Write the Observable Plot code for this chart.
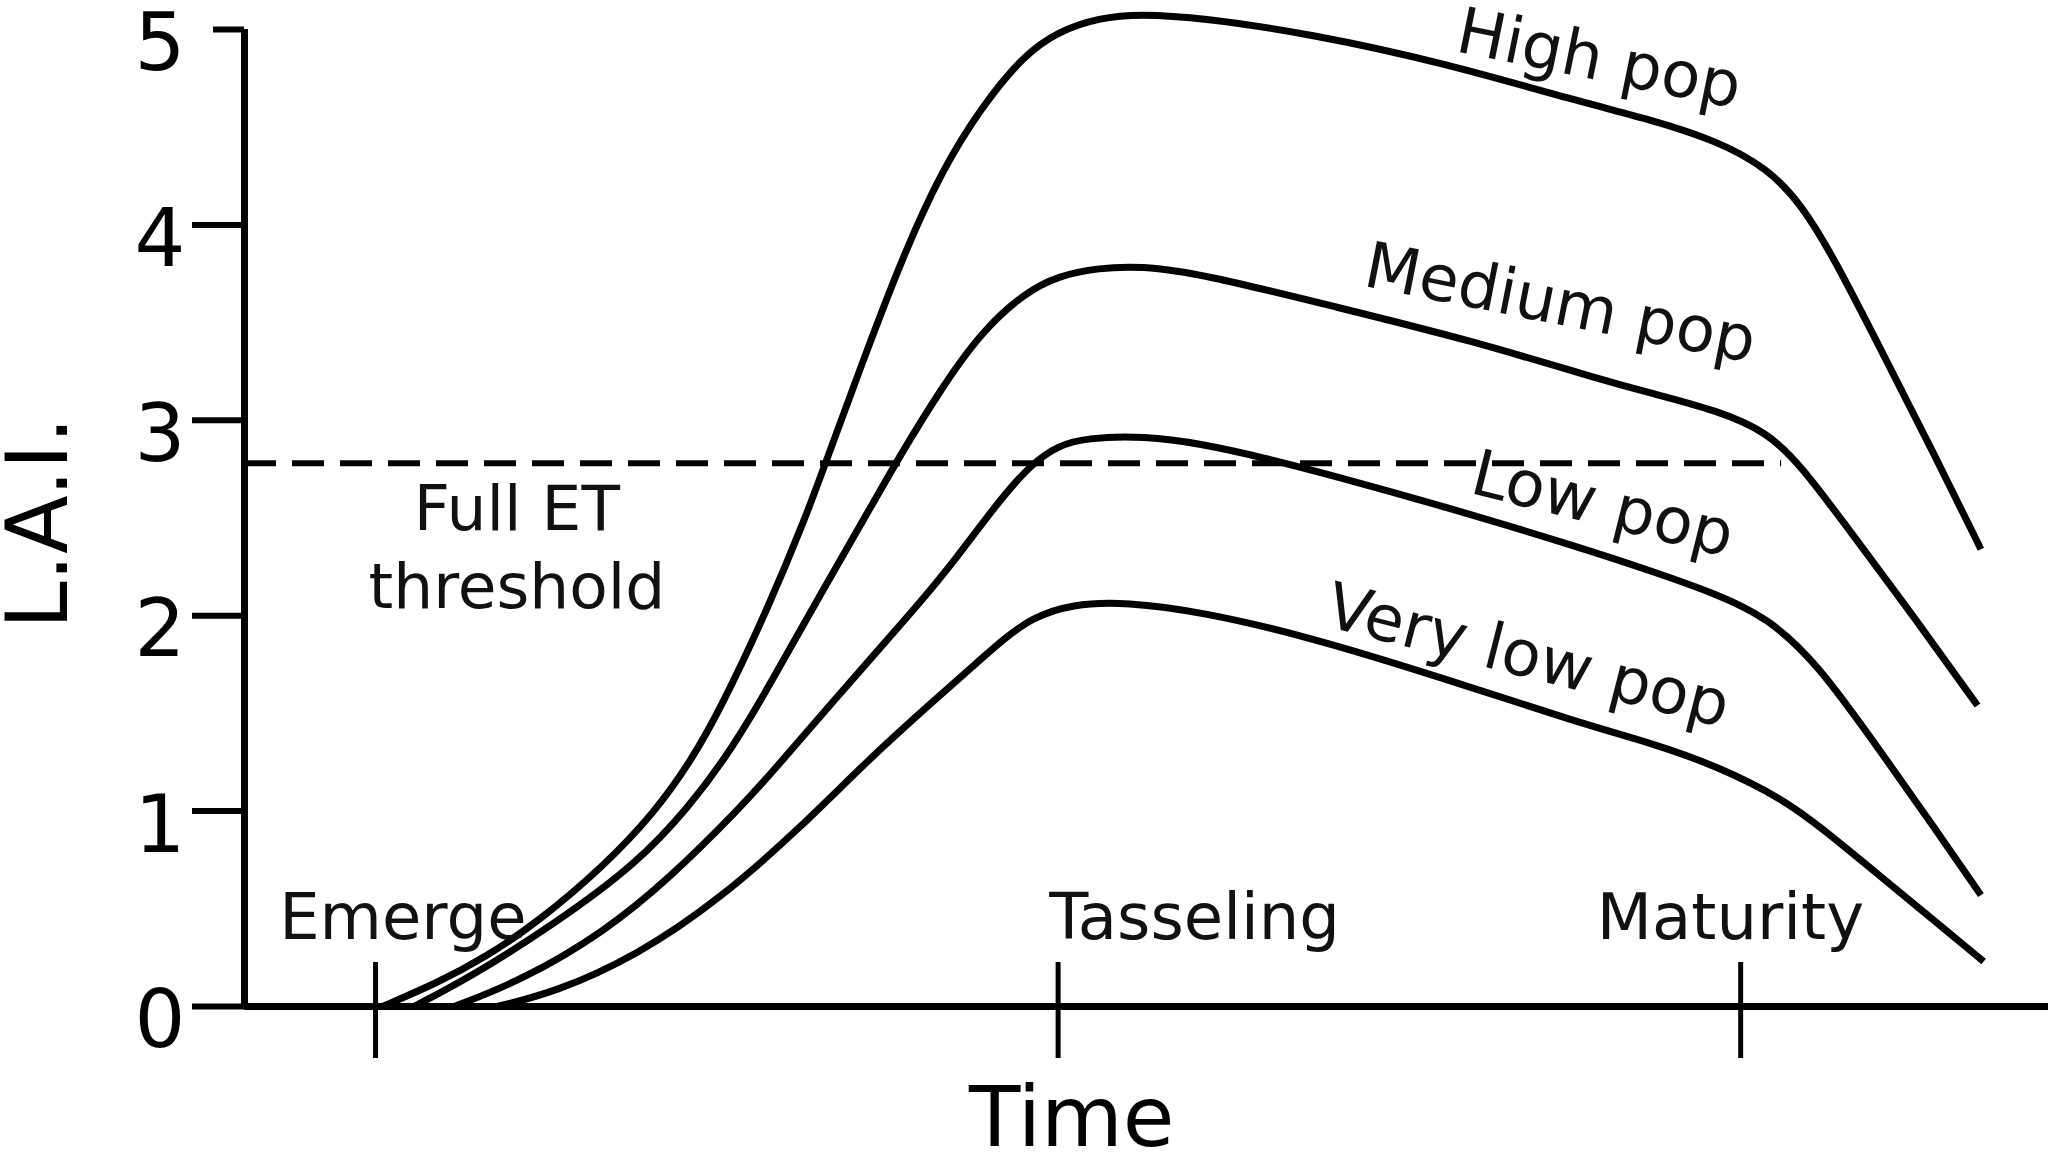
<!DOCTYPE html>
<html>
<head>
<meta charset="utf-8">
<script src="https://cdn.jsdelivr.net/npm/d3@7"></script>
<script src="https://cdn.jsdelivr.net/npm/@observablehq/plot@0.6"></script>
<style>
  html, body { margin: 0; padding: 0; background: #fff; }
  #chart { width: 2048px; height: 1152px; overflow: hidden; }
</style>
</head>
<body>
<div id="chart"></div>
<script>
// ---- data (time: 0 = Emerge, 1 = Tasseling, 2 = Maturity; value = L.A.I.) ----
const stages = ["Emerge", "Tasseling", "Maturity"];
const stageTime = [0, 1, 2];
const yTicks = [0, 1, 2, 3, 4, 5];
const seriesNames = ["High pop", "Medium pop", "Low pop", "Very low pop"];

const highPop = [[0.01,0],[0.09,0.12],[0.16,0.25],[0.237,0.43],[0.335,0.72],[0.408,0.99],[0.461,1.25],[0.505,1.52],[0.574,2.03],[0.632,2.52],[0.658,2.77],[0.72,3.36],[0.775,3.86],[0.83,4.28],[0.887,4.6],[0.95,4.87],[1.0,4.99],[1.06,5.06],[1.12,5.08],[1.21,5.06],[1.367,4.98],[1.565,4.83],[1.764,4.63],[1.868,4.54],[1.966,4.43],[2.039,4.29],[2.088,4.11],[2.137,3.83],[2.21,3.33],[2.283,2.83],[2.352,2.34]];
const mediumPop = [[0.056,0],[0.139,0.15],[0.261,0.42],[0.383,0.73],[0.461,1.03],[0.51,1.26],[0.559,1.53],[0.642,2.05],[0.733,2.6],[0.765,2.8],[0.83,3.17],[0.887,3.45],[0.95,3.65],[1.0,3.74],[1.06,3.78],[1.12,3.79],[1.21,3.75],[1.407,3.58],[1.604,3.41],[1.803,3.2],[1.868,3.14],[1.966,3.05],[2.039,2.94],[2.088,2.77],[2.161,2.43],[2.259,1.97],[2.347,1.54]];
const lowPop = [[0.115,0],[0.212,0.13],[0.335,0.38],[0.432,0.66],[0.535,1.02],[0.579,1.19],[0.667,1.55],[0.799,2.07],[0.85,2.29],[0.916,2.6],[0.962,2.78],[1.0,2.87],[1.04,2.91],[1.127,2.92],[1.21,2.88],[1.3,2.81],[1.4,2.72],[1.565,2.56],[1.764,2.35],[1.868,2.23],[1.966,2.11],[2.039,1.99],[2.112,1.76],[2.21,1.28],[2.283,0.92],[2.352,0.57]];
const veryLowPop = [[0.178,0],[0.261,0.07],[0.383,0.26],[0.505,0.55],[0.627,0.93],[0.715,1.24],[0.813,1.55],[0.878,1.75],[0.92,1.88],[0.962,1.99],[1.02,2.06],[1.1,2.07],[1.21,2.02],[1.37,1.89],[1.565,1.68],[1.764,1.45],[1.868,1.35],[1.966,1.23],[2.063,1.06],[2.12,0.91],[2.2,0.68],[2.28,0.45],[2.356,0.23]];

const etThreshold = 2.78;       // "Full ET threshold" L.A.I.
const etThresholdEnd = 2.06;    // time where the dashed line stops
const etLabel = "Full ET\nthreshold";

// annotation anchors (data units) for curve labels
const labelTime = [1.58, 1.445, 1.601, 1.388];
const labelValue = [4.89, 3.69, 2.63, 1.95];
const labelAngle = [11.5, 11.2, 14, 14.3];
const stageLabelTime = [0.04, 1.2, 1.985];
const etLabelPos = [0.207, 2.04];
const timeLabelPos = 1.02;

// ---- build table ----
const seriesValues = [highPop, mediumPop, lowPop, veryLowPop];
const rows = seriesNames.flatMap((name, i) => seriesValues[i].map(([t, v]) => ({series: name, t, v})));

const xDomain = [-0.192, 2.451];
const font = "DejaVu Sans";

const chart = Plot.plot({
  width: 2048,
  height: 1152,
  marginLeft: 244,
  marginRight: 0,
  marginTop: 29,
  marginBottom: 146,
  style: {fontFamily: font, background: "#fff", color: "#000", overflow: "visible"},
  x: {domain: xDomain, axis: null, label: null},
  y: {domain: [0, 5], axis: null, label: null},
  marks: [
    // dashed full-ET threshold
    Plot.ruleY([etThreshold], {x1: xDomain[0], x2: etThresholdEnd, stroke: "#000", strokeWidth: 6, strokeDasharray: "32,16"}),
    // curves
    Plot.line(rows, {x: "t", y: "v", z: "series", curve: "basis", stroke: "#000", strokeWidth: 7, strokeLinecap: "butt"}),
    // axis lines
    Plot.ruleY([0], {stroke: "#000", strokeWidth: 7}),
    Plot.ruleX([xDomain[0]], {stroke: "#000", strokeWidth: 7}),
    // y ticks
    Plot.axisY(yTicks.filter(d => d < 5), {tickSize: 52, strokeWidth: 6, tickFormat: () => "", label: null}),
    Plot.axisY([5], {tickSize: 31, strokeWidth: 6, tickFormat: () => "", label: null}),
    Plot.axisY(yTicks, {tickSize: 0, tickPadding: 59, fontSize: 80, dy: 15, fill: "#000", tickFormat: d3.format("d"), label: null}),
    // x ticks crossing the axis
    Plot.axisX(stageTime, {tickSize: 96, dy: -44, strokeWidth: 5, tickFormat: () => "", label: null}),
    // stage labels above the axis
    Plot.text(stages, {x: stageLabelTime, frameAnchor: "bottom", dy: -68, lineAnchor: "bottom", fontSize: 64, fill: "#111"}),
    // curve labels
    Plot.text(seriesNames, {x: labelTime, y: labelValue, rotate: labelAngle, textAnchor: "start", lineAnchor: "bottom", fontSize: 64, fill: "#111"}),
    // threshold label
    Plot.text([etLabel], {x: [etLabelPos[0]], y: [etLabelPos[1]], lineAnchor: "bottom", lineHeight: 1.24, fontSize: 63, fill: "#111"}),
    // axis titles
    Plot.text(["Time"], {x: [timeLabelPos], frameAnchor: "bottom", dy: 139, lineAnchor: "bottom", fontSize: 84, fill: "#000"}),
    Plot.text(["L.A.I."], {frameAnchor: "left", dx: -205, dy: 5, rotate: -90, textAnchor: "middle", lineAnchor: "middle", fontSize: 86, fill: "#000"})
  ]
});

document.getElementById("chart").appendChild(chart);
</script>
</body>
</html>
